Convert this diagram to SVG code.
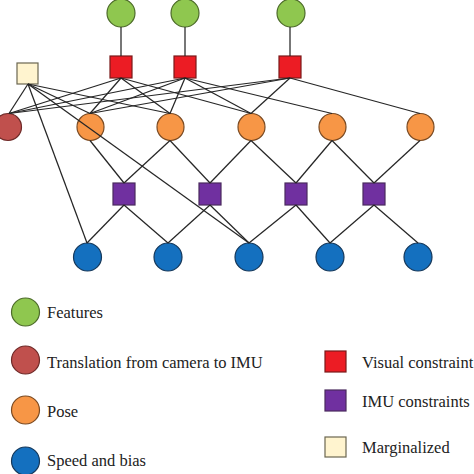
<svg xmlns="http://www.w3.org/2000/svg" width="474" height="474" viewBox="0 0 474 474">
<style>
.e{stroke:#262626;stroke-width:1.25;fill:none}
.f{fill:#8fc74f;stroke:#4d6b2a;stroke-width:1.2}
.v{fill:#ec1c24;stroke:#7a1a1a;stroke-width:1.2}
.t{fill:#c0504d;stroke:#6e2a28;stroke-width:1.2}
.p{fill:#f79646;stroke:#7a4a22;stroke-width:1.2}
.i{fill:#7030a0;stroke:#4a2a5e;stroke-width:1.2}
.s{fill:#1470bf;stroke:#16385a;stroke-width:1.2}
.m{fill:#fff4cf;stroke:#6b6650;stroke-width:1.2}
text{font-family:"Liberation Serif","Times New Roman",serif;font-size:16.5px;fill:#222}
</style>
<g id="feature1"><circle class="f" cx="121" cy="13" r="14"/></g>
<g id="feature2"><circle class="f" cx="185" cy="13" r="14"/></g>
<g id="feature3"><circle class="f" cx="291" cy="13" r="14"/></g>
<g id="visual1"><rect class="v" x="110" y="56" width="22" height="22"/></g>
<g id="visual2"><rect class="v" x="174" y="56" width="22" height="22"/></g>
<g id="visual3"><rect class="v" x="279" y="56" width="22" height="22"/></g>
<g id="marginalized"><rect class="m" x="17" y="63" width="21" height="21"/></g>
<g id="translation"><circle class="t" cx="8" cy="127" r="13.5"/></g>
<g id="pose1"><circle class="p" cx="90.5" cy="127" r="13.5"/></g>
<g id="pose2"><circle class="p" cx="170.5" cy="127" r="13.5"/></g>
<g id="pose3"><circle class="p" cx="251.5" cy="127" r="13.5"/></g>
<g id="pose4"><circle class="p" cx="332.5" cy="127" r="13.5"/></g>
<g id="pose5"><circle class="p" cx="420.5" cy="127" r="13.5"/></g>
<g id="imu1"><rect class="i" x="113" y="183" width="22" height="22"/></g>
<g id="imu2"><rect class="i" x="199" y="183" width="22" height="22"/></g>
<g id="imu3"><rect class="i" x="285" y="183" width="22" height="22"/></g>
<g id="imu4"><rect class="i" x="363" y="183" width="22" height="22"/></g>
<g id="speed1"><circle class="s" cx="87.5" cy="257" r="14"/></g>
<g id="speed2"><circle class="s" cx="168" cy="257" r="14"/></g>
<g id="speed3"><circle class="s" cx="249" cy="257" r="14"/></g>
<g id="speed4"><circle class="s" cx="330" cy="257" r="14"/></g>
<g id="speed5"><circle class="s" cx="418" cy="257" r="14"/></g>
<g id="connectors">
<line class="e" x1="121" y1="27" x2="121" y2="56"/>
<line class="e" x1="185" y1="27" x2="185" y2="56"/>
<line class="e" x1="290" y1="27" x2="290" y2="56"/>
<line class="e" x1="28" y1="84" x2="9" y2="113.5"/>
<line class="e" x1="28" y1="84" x2="90" y2="113.5"/>
<line class="e" x1="28" y1="84" x2="170" y2="113.5"/>
<line class="e" x1="28" y1="84" x2="87" y2="243"/>
<line class="e" x1="28" y1="84" x2="249" y2="243"/>
<line class="e" x1="121" y1="78" x2="9" y2="113.5"/>
<line class="e" x1="121" y1="78" x2="90" y2="113.5"/>
<line class="e" x1="121" y1="78" x2="170" y2="113.5"/>
<line class="e" x1="121" y1="78" x2="251" y2="113.5"/>
<line class="e" x1="185" y1="78" x2="9" y2="113.5"/>
<line class="e" x1="185" y1="78" x2="90" y2="113.5"/>
<line class="e" x1="185" y1="78" x2="170" y2="113.5"/>
<line class="e" x1="185" y1="78" x2="251" y2="113.5"/>
<line class="e" x1="185" y1="78" x2="332" y2="113.5"/>
<line class="e" x1="290" y1="78" x2="9" y2="113.5"/>
<line class="e" x1="290" y1="78" x2="90" y2="113.5"/>
<line class="e" x1="290" y1="78" x2="251" y2="113.5"/>
<line class="e" x1="290" y1="78" x2="420" y2="113.5"/>
<line class="e" x1="90" y1="140.5" x2="124" y2="183"/>
<line class="e" x1="170" y1="140.5" x2="124" y2="183"/>
<line class="e" x1="170" y1="140.5" x2="210" y2="183"/>
<line class="e" x1="251" y1="140.5" x2="210" y2="183"/>
<line class="e" x1="251" y1="140.5" x2="296" y2="183"/>
<line class="e" x1="332" y1="140.5" x2="296" y2="183"/>
<line class="e" x1="332" y1="140.5" x2="374" y2="183"/>
<line class="e" x1="420" y1="140.5" x2="374" y2="183"/>
<line class="e" x1="124" y1="205" x2="87" y2="243"/>
<line class="e" x1="124" y1="205" x2="168" y2="243"/>
<line class="e" x1="210" y1="205" x2="168" y2="243"/>
<line class="e" x1="210" y1="205" x2="249" y2="243"/>
<line class="e" x1="296" y1="205" x2="249" y2="243"/>
<line class="e" x1="296" y1="205" x2="330" y2="243"/>
<line class="e" x1="374" y1="205" x2="330" y2="243"/>
<line class="e" x1="374" y1="205" x2="418" y2="243"/>
</g>
<g id="legend">
<circle class="f" cx="25.5" cy="312" r="14"/>
<text x="47" y="318">Features</text>
<circle class="t" cx="25.5" cy="360" r="14"/>
<text x="47" y="368">Translation from camera to IMU</text>
<circle class="p" cx="25.5" cy="410" r="14"/>
<text x="47" y="417">Pose</text>
<circle class="s" cx="25.5" cy="461" r="14"/>
<text x="47" y="466">Speed and bias</text>
<rect class="v" x="325" y="351" width="21" height="21"/>
<text x="362" y="368">Visual constraint</text>
<rect class="i" x="325" y="390" width="21" height="21"/>
<text x="362" y="407">IMU constraints</text>
<rect class="m" x="325" y="437" width="21" height="20"/>
<text x="362" y="453">Marginalized</text>
</g>
</svg>
